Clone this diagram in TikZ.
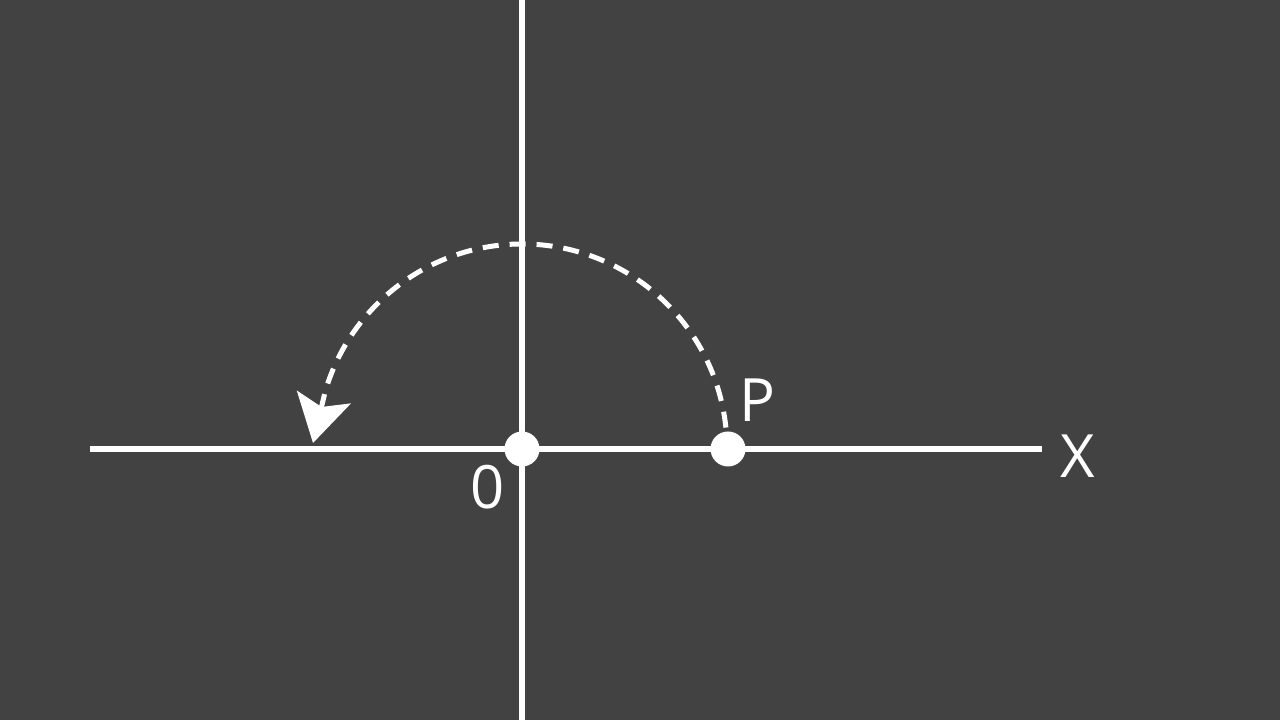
\documentclass[tikz,border=0pt]{standalone}
\usepackage{fontspec}
\setmainfont{Open Sans}
\usetikzlibrary{arrows.meta,calc}
\definecolor{board}{HTML}{424242}

\begin{document}
\begin{tikzpicture}[
    axisline/.style={white,line width=0.06cm},
    dot/.style={circle,fill=white,inner sep=0pt,minimum size=0.35cm},
    lbl/.style={white,font=\fontsize{17}{19}\selectfont},
    turn/.style={white,line width=0.05cm,dash pattern=on 0.16cm off 0.11cm,
      -{Stealth[length=0.47cm,width=0.55cm,inset=0.1cm]}}
]

%%% BACKGROUND %%%
\fill[board] (0,0) rectangle (12.8,7.2);
\useasboundingbox (0,0) rectangle (12.8,7.2);

%%% AXES %%%
\coordinate (xl) at (0.90,2.71);
\coordinate (xr) at (10.42,2.71);
\coordinate (yb) at (5.22,0);
\coordinate (yt) at (5.22,7.2);
\draw[axisline] (xl) -- (xr);
\draw[axisline] (yb) -- (yt);

%%% POINTS %%%
\node[dot] (O) at (5.22,2.71) {};
\node[dot] (P) at (7.28,2.71) {};
\coordinate (tip) at (3.13,2.77);

%%% HALF TURN %%%
\draw[turn] ($(O)+(6:2.05)$) arc[start angle=6, end angle=164, radius=2.05] -- (tip);

%%% LABELS %%%
\node[lbl] (Olbl) at (4.88,2.33) {0};
\node[lbl] (Plbl) at (7.57,3.20) {P};
\node[lbl] (Xlbl) at (10.78,2.64) {X};

\end{tikzpicture}
\end{document}
